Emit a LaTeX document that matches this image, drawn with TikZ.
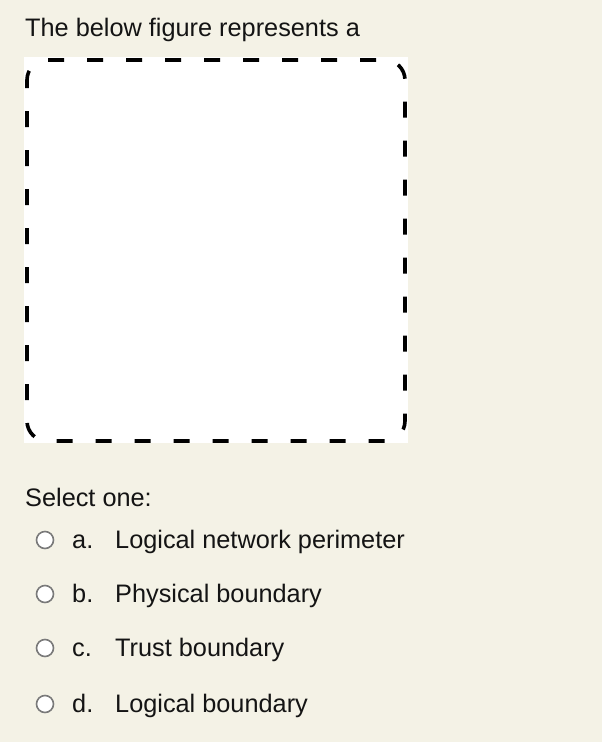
\documentclass[tikz,border=0pt]{standalone}
\usepackage{fontspec}
\setmainfont{Liberation Sans}
\usepackage{tikz}

\definecolor{pagecream}{HTML}{F4F2E6}
\definecolor{radiogray}{HTML}{7A7A7A}
\definecolor{inktext}{HTML}{141414}

\begin{document}
\begin{tikzpicture}[x=1pt, y=-1pt,
    txt/.style={anchor=base west, inner sep=0pt, text=inktext, font=\fontsize{25.3}{30}\selectfont},
    radio/.style={circle, draw=radiogray, fill=white, line width=1.6pt, minimum size=17pt, inner sep=0pt}]
    % Page background
    \fill[pagecream] (0,0) rectangle (602,742);

    % Question
    \node[txt] (question) at (25,36) {The below figure represents a};

    % Figure: white square with dashed rounded border
    \fill[white] (24,57) rectangle (408,443);
    \begin{scope}
        \clip (24,57) rectangle (408,443);
        \draw[line width=3.6pt, dash pattern=on 16pt off 23pt, dash phase=8pt, rounded corners=20pt] (27,60) rectangle (405,441);
    \end{scope}

    % Answer options
    \node[txt] (select) at (25,506) {Select one:};

    \node[radio] (ra) at (45,540) {};
    \node[txt] (la) at (72,548) {a.};
    \node[txt] (ta) at (115,548) {Logical network perimeter};

    \node[radio] (rb) at (45,594) {};
    \node[txt] (lb) at (72,602) {b.};
    \node[txt] (tb) at (115,602) {Physical boundary};

    \node[radio] (rc) at (45,648) {};
    \node[txt] (lc) at (72,656) {c.};
    \node[txt] (tc) at (115,656) {Trust boundary};

    \node[radio] (rd) at (45,704) {};
    \node[txt] (ld) at (72,712) {d.};
    \node[txt] (td) at (115,712) {Logical boundary};
\end{tikzpicture}
\end{document}
